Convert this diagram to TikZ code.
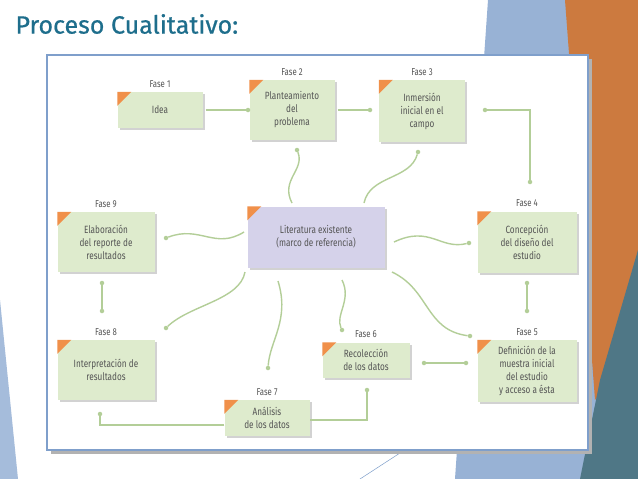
\documentclass[tikz,border=0pt]{standalone}
\usepackage{fontspec}
\setmainfont{Fira Sans}
\usetikzlibrary{shadows,positioning}
\definecolor{boxg}{HTML}{DEEBCD}
\definecolor{boxp}{HTML}{D5D2EA}
\definecolor{lnk}{HTML}{B3CE98}
\definecolor{orng}{HTML}{F0904A}
\definecolor{ttl}{HTML}{1E6E8C}
\definecolor{frm}{HTML}{7F9FCB}
\definecolor{txt}{HTML}{555555}
\tikzset{
 phase/.style={draw=none,fill=boxg,drop shadow={shadow xshift=2pt,shadow yshift=-2pt,opacity=.35},align=center,font=\fontsize{10.5}{13}\selectfont\addfontfeatures{FakeStretch=0.78},text=txt,inner sep=2pt},
 lit/.style={phase,fill=boxp},
 flab/.style={font=\fontsize{10}{12}\selectfont\addfontfeatures{FakeStretch=0.78},text=txt},
 lnkline/.style={draw=lnk,line width=1.4pt},
 dot/.style={circle,fill=lnk,inner sep=0pt,minimum size=4.5pt}
}
\newcommand{\corner}[1]{\fill[orng] (#1.north west) -- ++(14,0) -- ++(-14,14) -- cycle;}
\begin{document}
\begin{tikzpicture}[x=1pt,y=-1pt]
\useasboundingbox (0,0) rectangle (638,479);
\fill[white] (0,0) rectangle (638,479);
% decorations
\fill[frm!80] (488,0) -- (572,0) -- (605,479) -- (455,479) -- cycle;
\fill[orng!85!black] (565,0) -- (638,0) -- (638,340) -- (595,400) -- cycle;
\fill[ttl!50!gray] (638,250) -- (638,479) -- (580,479) -- (600,380) -- cycle;
\fill[frm!70] (0,300) -- (18,479) -- (0,479) -- cycle;
\draw[frm,line width=.5pt] (360,479) -- (420,440);
\node[anchor=west,font=\fontsize{25}{28}\selectfont\addfontfeatures{FakeBold=0.6},text=ttl] (title) at (12,24) {Proceso Cualitativo:};
% panel
\fill[gray!60] (51,59) rectangle (592,454);
\draw[frm,line width=2.5pt,fill=white] (47,55) rectangle (588,450);
% boxes
\node[phase,minimum width=85,minimum height=36] (f1) at (160,110) {Idea};
\node[phase,minimum width=85,minimum height=60] (f2) at (292,110) {Planteamiento\\del\\problema};
\node[phase,minimum width=86,minimum height=62] (f3) at (422,111) {Inmersión\\inicial en el\\campo};
\node[phase,minimum width=99,minimum height=61] (f4) at (527,242) {Concepción\\del diseño del\\estudio};
\node[phase,minimum width=99,minimum height=62] (f5) at (527,371) {Definición de la\\muestra inicial\\del estudio\\y acceso a ésta};
\node[phase,minimum width=87,minimum height=35] (f6) at (366,360) {Recolección\\de los datos};
\node[phase,minimum width=85,minimum height=36] (f7) at (267,418) {Análisis\\de los datos};
\node[phase,minimum width=97,minimum height=60] (f8) at (106,370) {Interpretación de\\resultados};
\node[phase,minimum width=97,minimum height=60] (f9) at (106,242) {Elaboración\\del reporte de\\resultados};
\node[lit,minimum width=137,minimum height=61] (lt) at (316,237) {Literatura existente\\(marco de referencia)};
\foreach \n in {f1,f2,f3,f4,f5,f6,f7,f8,f9,lt} {\corner{\n}}
% phase labels
\node[flab,above=1pt of f1] (l1) {Fase 1};
\node[flab,above=1pt of f2] (l2) {Fase 2};
\node[flab,above=1pt of f3] (l3) {Fase 3};
\node[flab,above=1pt of f4] (l4) {Fase 4};
\node[flab,above=1pt of f5] (l5) {Fase 5};
\node[flab,above=1pt of f6] (l6) {Fase 6};
\node[flab,above=1pt of f7] (l7) {Fase 7};
\node[flab,above=1pt of f8] (l8) {Fase 8};
\node[flab,above=1pt of f9] (l9) {Fase 9};
% dots
\node[dot] (d12) at (248,110) {};
\node[dot] (d23) at (370,110) {};
\node[dot] (d3a) at (485,110) {};
\node[dot] (d3b) at (530,182) {};
\node[dot] (d4a) at (527,283) {};
\node[dot] (d4b) at (527,311) {};
\node[dot] (d5a) at (466,363) {};
\node[dot] (d5b) at (424,363) {};
\node[dot] (d6) at (367,390) {};
\node[dot] (d8) at (100,414) {};
\node[dot] (d89a) at (102,283) {};
\node[dot] (d89b) at (102,311) {};
\node[dot] (dl2) at (297,150) {};
\node[dot] (dl3) at (418,152) {};
\node[dot] (dl9) at (166,238) {};
\node[dot] (dl4) at (469,243) {};
\node[dot] (dl8) at (166,328) {};
\node[dot] (dl7) at (268,368) {};
\node[dot] (dl6) at (342,330) {};
\node[dot] (dl5) at (470,336) {};
% straight links
\draw[lnkline] (f1.east) ++(3,0) coordinate (s1) -- (d12);
\draw[lnkline] (f2.east) ++(3,0) coordinate (s2) -- (d23);
\draw[lnkline] (d3a) -| (d3b);
\draw[lnkline] (d4a) -- (d4b);
\draw[lnkline] (d5a) -- (d5b);
\draw[lnkline] (d6) |- (f7.east |- 0,420);
\draw[lnkline] (f7.west |- 0,425) -| (d8);
\draw[lnkline] (d89a) -- (d89b);
% curved links from literatura
\draw[lnkline] (292,203) .. controls (280,180) and (305,170) .. (dl2);
\draw[lnkline] (364,203) .. controls (370,175) and (410,180) .. (dl3);
\draw[lnkline] (244,232) .. controls (215,250) and (200,225) .. (dl9);
\draw[lnkline] (394,242) .. controls (430,225) and (440,250) .. (dl4);
\draw[lnkline] (245,272) .. controls (240,300) and (190,305) .. (dl8);
\draw[lnkline] (278,281) .. controls (290,320) and (270,340) .. (dl7);
\draw[lnkline] (342,280) .. controls (352,300) and (335,315) .. (dl6);
\draw[lnkline] (392,272) .. controls (430,290) and (425,330) .. (dl5);
\end{tikzpicture}
\end{document}
